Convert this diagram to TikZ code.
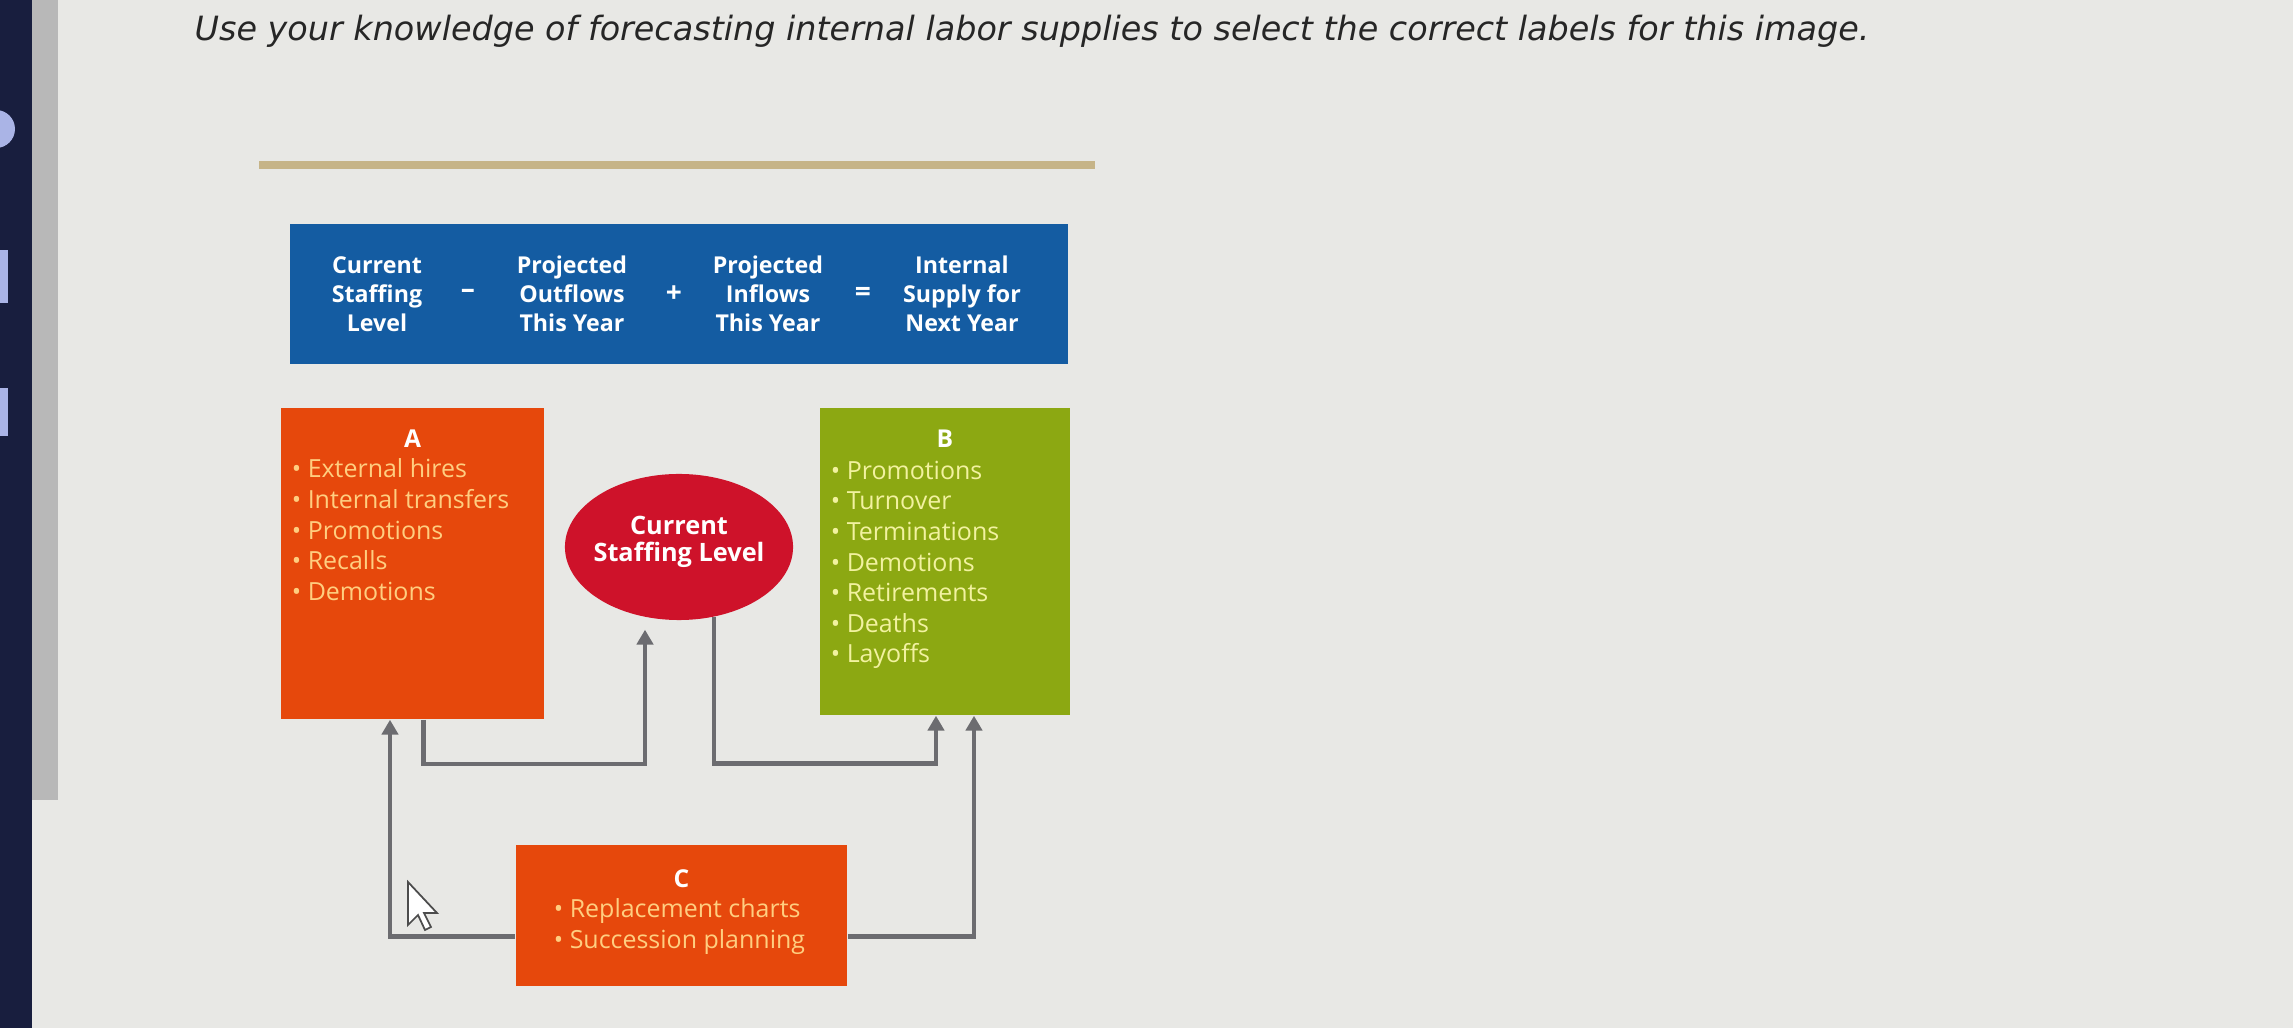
\documentclass[tikz,border=0pt]{standalone}
\usepackage{fontspec}
\setmainfont{Open Sans}
\newfontfamily\questionfont{DejaVu Sans}
\usetikzlibrary{positioning,arrows.meta,shapes.geometric}

\definecolor{pagebg}{RGB}{232,232,229}
\definecolor{navybar}{RGB}{24,30,62}
\definecolor{scrollgrey}{RGB}{184,184,184}
\definecolor{uililac}{RGB}{170,180,230}
\definecolor{tanline}{RGB}{198,180,136}
\definecolor{eqblue}{RGB}{20,92,162}
\definecolor{inorange}{RGB}{230,72,12}
\definecolor{outgreen}{RGB}{140,168,18}
\definecolor{staffred}{RGB}{206,18,42}
\definecolor{linkgrey}{RGB}{108,108,112}
\definecolor{peach}{RGB}{255,206,128}
\definecolor{lemon}{RGB}{242,242,160}

\begin{document}
\begin{tikzpicture}[x=0.01cm, y=-0.01cm,
eqbox/.style={rectangle, fill=eqblue, minimum width=7.78cm, minimum height=1.40cm, inner sep=0},
eqtext/.style={text=white, align=center, inner sep=0, font=\fontsize{6.6}{8.25}\selectfont\bfseries},
eqsign/.style={text=white, inner sep=0, font=\fontsize{8}{9}\selectfont\bfseries},
inbox/.style={rectangle, fill=inorange, inner sep=0},
outbox/.style={rectangle, fill=outgreen, inner sep=0},
staffnode/.style={ellipse, fill=staffred, minimum width=2.28cm, minimum height=1.46cm, inner sep=0},
headtext/.style={text=white, inner sep=0, font=\fontsize{7}{8}\selectfont\bfseries},
listtext/.style={align=left, inner sep=0, font=\fontsize{7.1}{8.7}\selectfont},
link/.style={draw=linkgrey, line width=1.3pt, -{Triangle[width=4.6pt,length=4.2pt]}},
]
\useasboundingbox (0,0) rectangle (2293,1028);
\fill[pagebg] (0,0) rectangle (2293,1028);
\fill[navybar] (0,0) rectangle (32,1028);
\fill[scrollgrey] (32,0) rectangle (58,800);
\fill[uililac] (-4,129) circle (19);
\fill[uililac] (0,250) rectangle (8,303);
\fill[uililac] (0,388) rectangle (8,436);

%Question
\node[anchor=west, inner sep=0, text=black!85, font=\questionfont\fontsize{9.5}{11}\selectfont\itshape] (question) at (194,31)
  {Use your knowledge of forecasting internal labor supplies to select the correct labels for this image.};
\draw[tanline, line width=2pt] (259,165) -- (1095,165);

%Nodes
\node[eqbox] (eq) at (679,294) {};
\node[eqtext] (current) at (377,294) {Current\\Staffing\\Level};
\node[eqsign] (minus) at (468,294) {–};
\node[eqtext] (outflows) at (572,294) {Projected\\Outflows\\This Year};
\node[eqsign] (plus) at (674,294) {+};
\node[eqtext] (inflows) at (768,294) {Projected\\Inflows\\This Year};
\node[eqsign] (equals) at (863,294) {=};
\node[eqtext] (supply) at (962,294) {Internal\\Supply for\\Next Year};

\node[inbox, minimum width=2.63cm, minimum height=3.11cm] (A) at (412.5,563.5) {};
\node[headtext] (Ahead) [below=0.22cm of A.north] {A};
\node[listtext, text=peach, anchor=north west] (Alist) at ([shift={(11,51)}]A.north west)
  {• External hires\\• Internal transfers\\• Promotions\\• Recalls\\• Demotions};

\node[staffnode] (staff) at (679,547) {};
\node[headtext, align=center, font=\fontsize{7.2}{7.7}\selectfont\bfseries] (stafflabel) at ([shift={(0,-5)}]staff.center) {Current\\Staffing Level};

\node[outbox, minimum width=2.50cm, minimum height=3.07cm] (B) at (945,561.5) {};
\node[headtext] (Bhead) [below=0.22cm of B.north] {B};
\node[listtext, text=lemon, anchor=north west] (Blist) at ([shift={(11,53)}]B.north west)
  {• Promotions\\• Turnover\\• Terminations\\• Demotions\\• Retirements\\• Deaths\\• Layoffs};

\node[inbox, minimum width=3.31cm, minimum height=1.41cm] (C) at (681.5,915.5) {};
\node[headtext] (Chead) [below=0.25cm of C.north] {C};
\node[listtext, text=peach, anchor=north] (Clist) at ([shift={(-2,54)}]C.north)
  {• Replacement charts\\• Succession planning};

%Lines
\draw[link] ([shift={(11,0)}]A.south) -- ++(0,44) -| ([shift={(-34,9)}]staff.south);
\draw[link] ([shift={(35,-4)}]staff.south) -- ++(0,147) -| ([shift={(-9,0)}]B.south);
\draw[link] ([shift={(0,21)}]C.west) -| ([shift={(-22.5,0)}]A.south);
\draw[link] ([shift={(0,21)}]C.east) -| ([shift={(29,0)}]B.south);

%Pointer
\filldraw[fill=white, draw=black!70, line width=0.5pt] (408,882) -- (408,925) -- (418,915) -- (425,930) -- (431,927) -- (424,913) -- (437,913) -- cycle;
\end{tikzpicture}
\end{document}
